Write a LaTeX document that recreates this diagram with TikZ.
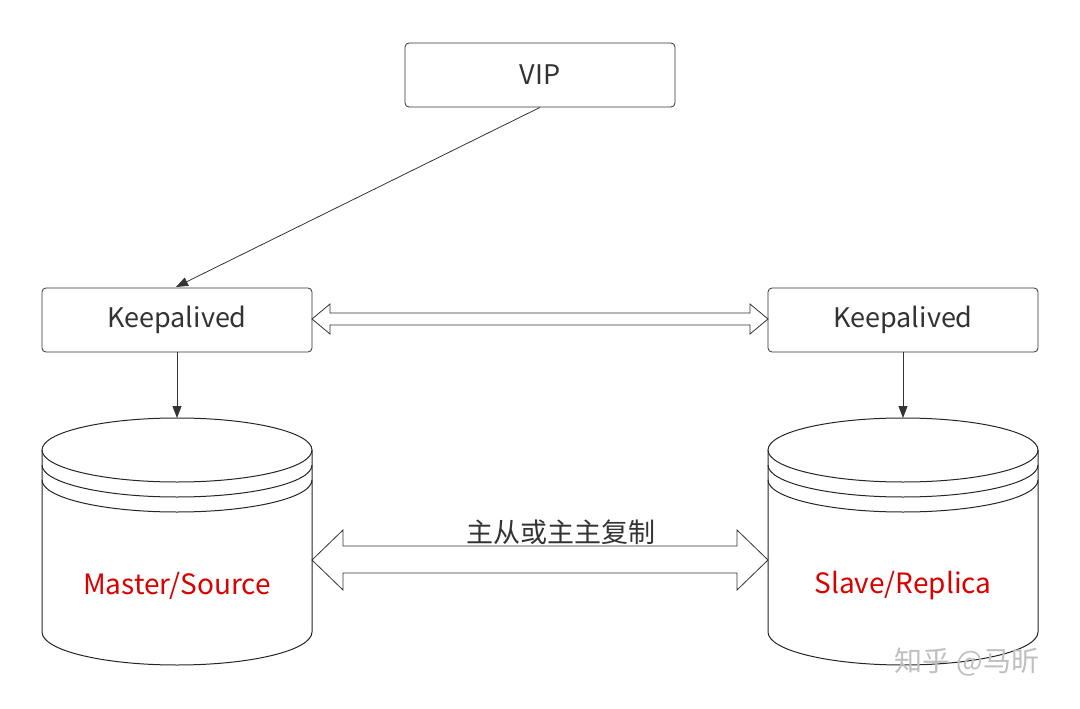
\documentclass[tikz,border=0pt]{standalone}
\usepackage{fontspec}
\setmainfont{Noto Sans CJK SC}
\usetikzlibrary{arrows.meta,shapes.arrows}
\begin{document}
\begin{tikzpicture}[x=1pt,y=-1pt,
  box/.style={draw=black!80,line width=0.8pt,rounded corners=4pt,minimum width=270pt,minimum height=64pt,font=\fontsize{27}{30}\selectfont,text=black!80},
  arr/.style={draw=black!80,line width=0.8pt,-{Triangle[length=12pt,width=9pt]}},
  cyl/.style={line width=1pt,black!85},
  lbl/.style={text=red!85!black,font=\fontsize{28}{32}\selectfont}]
\useasboundingbox (0,0) rectangle (1080,709);
\node[box] (vip) at (540,75) {VIP};
\node[box] (kl) at (177,320) {Keepalived};
\node[box] (kr) at (903,320) {Keepalived};
\draw[arr] (vip.south) -- (176,287);
\draw[arr] (kl.south) -- (177,418);
\draw[arr] (kr.south) -- (903,418);
% hollow double arrow between keepalived
\draw[line width=0.8pt,black!80] (312,319) -- (330,304) -- (330,313) -- (750,313) -- (750,304) -- (768,319) -- (750,334) -- (750,325) -- (330,325) -- (330,334) -- cycle;
% cylinders
\foreach \cx in {177,903}{
  \draw[cyl] (\cx,450) ellipse (135 and 32);
  \draw[cyl] (\cx-135,450) -- (\cx-135,632) arc[start angle=180,end angle=0,x radius=135,y radius=33] -- (\cx+135,450);
  \draw[cyl] (\cx-135,465) arc[start angle=180,end angle=0,x radius=135,y radius=32];
  \draw[cyl] (\cx-135,480) arc[start angle=180,end angle=0,x radius=135,y radius=32];
}
\node[lbl] (ml) at (177,586) {Master/Source};
\node[lbl] (sr) at (903,586) {Slave/Replica};
% big hollow double arrow
\draw[line width=0.8pt,black!80] (312,560) -- (343,530) -- (343,546) -- (737,546) -- (737,530) -- (768,560) -- (737,590) -- (737,573) -- (343,573) -- (343,590) -- cycle;
\node[font=\fontsize{27}{30}\selectfont,text=black!80] (rep) at (561,532) {主从或主主复制};
\node[font=\fontsize{28}{32}\selectfont,text=black!25] (wm) at (967,662) {知乎 @马昕};
\end{tikzpicture}
\end{document}
